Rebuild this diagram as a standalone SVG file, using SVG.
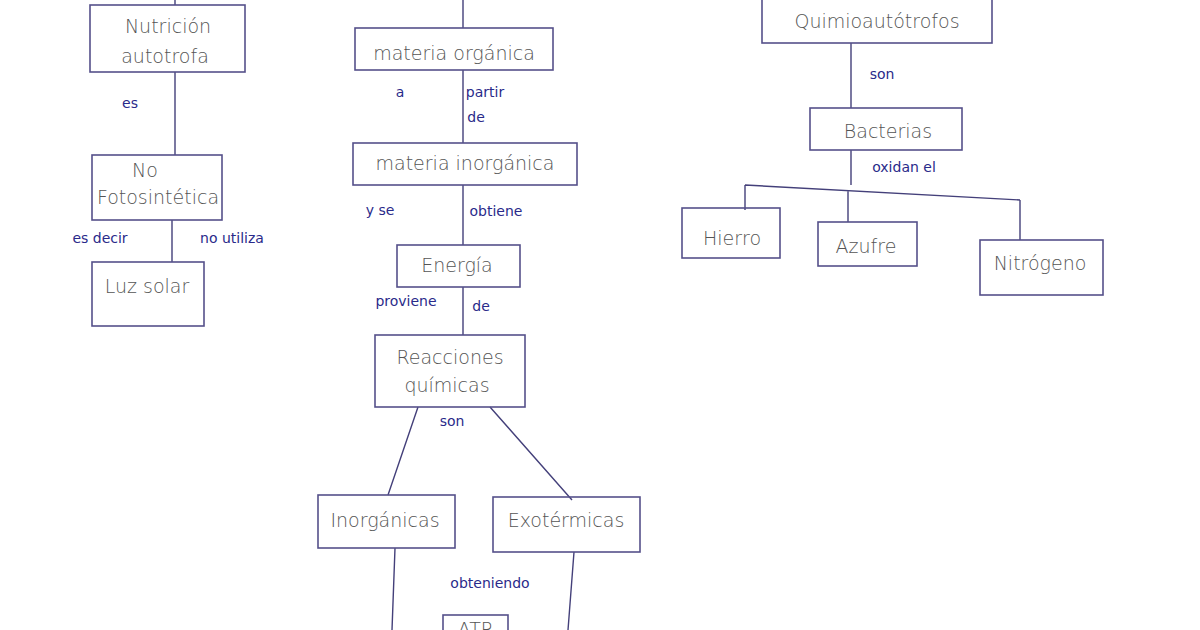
<svg xmlns="http://www.w3.org/2000/svg" width="1200" height="630" viewBox="0 0 1200 630">
<style>
.b{fill:none;stroke:#55508a;stroke-width:1.6}
.l{stroke:#44407a;stroke-width:1.4;fill:none}
.t{font-family:"DejaVu Sans",sans-serif;font-size:19px;fill:#555;text-anchor:middle;font-weight:300}
.s{font-family:"DejaVu Sans",sans-serif;font-size:14px;fill:#2a2a8a;text-anchor:middle}
</style>
<rect width="1200" height="630" fill="#fff"/>
<g id="connectors">
<path class="l" d="M175 0V5M175 72V155M172 220V262M463 0V28M463 70V143M463 185V245M463 287V335M418 407L388 495M490 407L572 500M395 548L392 630M574 552L568 630M851 43V108M851 150V185M745 185L1020 200M745 185V210M848 190V222M1020 200V240"/>
</g>
<g id="n1"><rect class="b" x="90" y="5" width="155" height="67"/><text class="t" x="168" y="33">Nutrición</text><text class="t" x="165" y="63">autotrofa</text></g>
<g id="n2"><rect class="b" x="92" y="155" width="130" height="65"/><text class="t" x="145" y="177">No</text><text class="t" x="158" y="204">Fotosintética</text></g>
<g id="n3"><rect class="b" x="92" y="262" width="112" height="64"/><text class="t" x="147" y="293">Luz solar</text></g>
<g id="n4"><rect class="b" x="355" y="28" width="198" height="42"/><text class="t" x="454" y="60">materia orgánica</text></g>
<g id="n5"><rect class="b" x="353" y="143" width="224" height="42"/><text class="t" x="465" y="170">materia inorgánica</text></g>
<g id="n6"><rect class="b" x="397" y="245" width="123" height="42"/><text class="t" x="457" y="272">Energía</text></g>
<g id="n7"><rect class="b" x="375" y="335" width="150" height="72"/><text class="t" x="450" y="364">Reacciones</text><text class="t" x="447" y="392">químicas</text></g>
<g id="n8"><rect class="b" x="318" y="495" width="137" height="53"/><text class="t" x="385" y="527">Inorgánicas</text></g>
<g id="n9"><rect class="b" x="493" y="497" width="147" height="55"/><text class="t" x="566" y="527">Exotérmicas</text></g>
<g id="n10"><rect class="b" x="443" y="615" width="65" height="30"/><text class="t" x="475" y="636">ATP</text></g>
<g id="n11"><rect class="b" x="762" y="-5" width="230" height="48"/><text class="t" x="877" y="28">Quimioautótrofos</text></g>
<g id="n12"><rect class="b" x="810" y="108" width="152" height="42"/><text class="t" x="888" y="138">Bacterias</text></g>
<g id="n13"><rect class="b" x="682" y="208" width="98" height="50"/><text class="t" x="732" y="245">Hierro</text></g>
<g id="n14"><rect class="b" x="818" y="222" width="99" height="44"/><text class="t" x="866" y="253">Azufre</text></g>
<g id="n15"><rect class="b" x="980" y="240" width="123" height="55"/><text class="t" x="1040" y="270">Nitrógeno</text></g>
<g id="labels">
<text class="s" x="130" y="108">es</text>
<text class="s" x="100" y="243">es decir</text>
<text class="s" x="232" y="243">no utiliza</text>
<text class="s" x="400" y="97">a</text>
<text class="s" x="485" y="97">partir</text>
<text class="s" x="476" y="122">de</text>
<text class="s" x="380" y="215">y se</text>
<text class="s" x="496" y="216">obtiene</text>
<text class="s" x="406" y="306">proviene</text>
<text class="s" x="481" y="311">de</text>
<text class="s" x="452" y="426">son</text>
<text class="s" x="490" y="588">obteniendo</text>
<text class="s" x="882" y="79">son</text>
<text class="s" x="904" y="172">oxidan el</text>
</g>
</svg>
